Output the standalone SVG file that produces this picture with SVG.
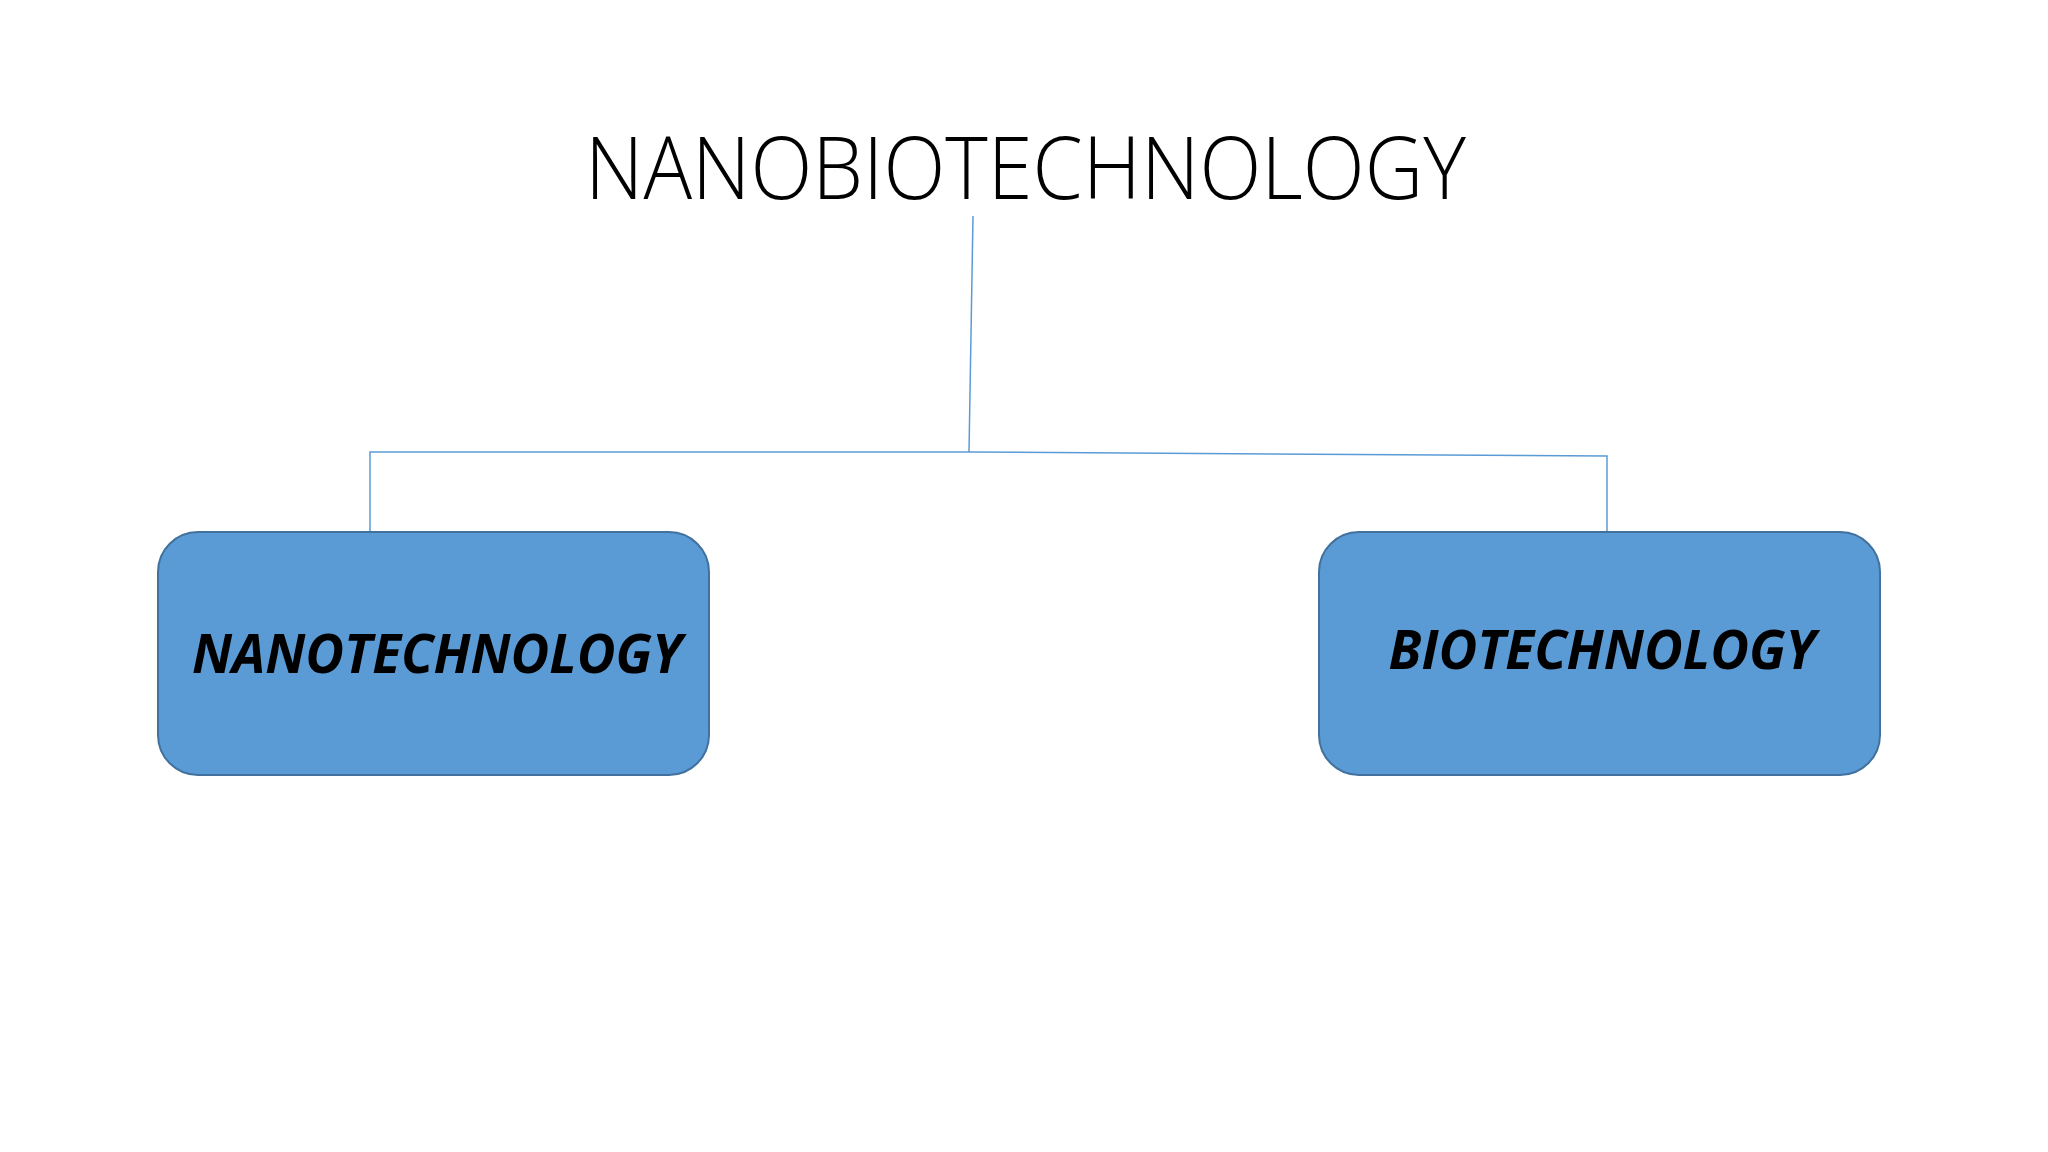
<svg xmlns="http://www.w3.org/2000/svg" width="2048" height="1152" viewBox="0 0 2048 1152">
<style>
.title{font-family:"Open Sans","Liberation Sans",sans-serif;font-weight:300;font-size:86px;fill:#000}
.box{fill:#5B9BD5;stroke:#41719C;stroke-width:2}
.lbl{font-family:"Open Sans","Liberation Sans",sans-serif;font-weight:700;font-style:italic;font-size:54px;fill:#000;text-anchor:middle}
.conn{fill:none;stroke:#5B9BD5;stroke-width:1.5}
</style>
<rect width="2048" height="1152" fill="#fff"/>
<g id="title">
<text class="title" x="585" y="199" textLength="881" lengthAdjust="spacingAndGlyphs">NANOBIOTECHNOLOGY</text>
</g>
<g id="connectors">
<path class="conn" d="M973,216 L969,452"/>
<path class="conn" d="M370,532 L370,452 L969,452 L1607,456 L1607,532"/>
</g>
<g id="nanotechnology">
<rect class="box" x="158" y="532" width="551" height="243" rx="40" ry="40"/>
<text class="lbl" x="437" y="673" textLength="490" lengthAdjust="spacingAndGlyphs">NANOTECHNOLOGY</text>
</g>
<g id="biotechnology">
<rect class="box" x="1319" y="532" width="561" height="243" rx="40" ry="40"/>
<text class="lbl" x="1602" y="669" textLength="427" lengthAdjust="spacingAndGlyphs">BIOTECHNOLOGY</text>
</g>
</svg>
